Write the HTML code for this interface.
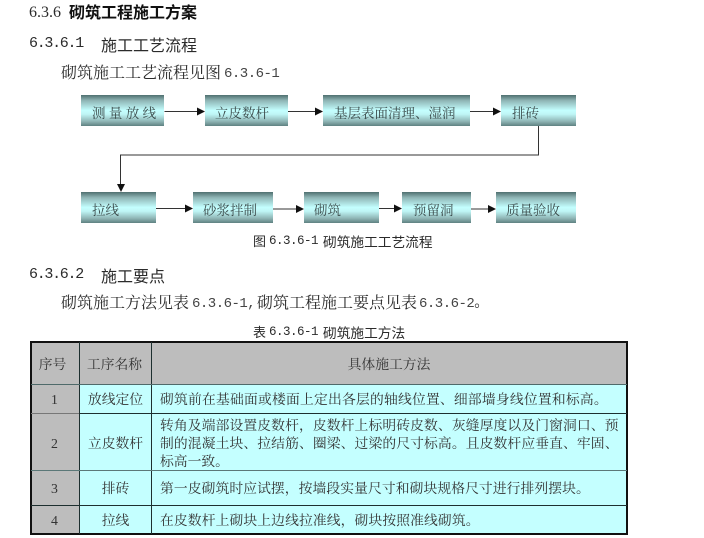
<!DOCTYPE html>
<html><head><meta charset="utf-8">
<style>
html,body{margin:0;padding:0;background:#fff}
#p{position:relative;width:704px;height:538px;overflow:hidden;background:#fff;filter:blur(.3px)}
.t{position:absolute;white-space:nowrap;color:#2b2b2b;font-family:"Liberation Serif","Noto Serif CJK SC",serif;line-height:18px}
.s{font-family:"Liberation Mono","Noto Sans CJK SC",sans-serif}
.b{position:absolute;height:31px;box-sizing:border-box;background:linear-gradient(#4f7070 0,#8fb5b5 18%,#c4ffff 50%,#bff5f5 62%,#8fb5b5 85%,#5f8282 100%);font:13.5px/37px "Liberation Serif","Noto Serif CJK SC",serif;color:#3a4a4a;white-space:nowrap;overflow:hidden}
.c{position:absolute;box-sizing:border-box;font:13.8px/18px "Liberation Serif","Noto Serif CJK SC",serif;color:#333;white-space:nowrap}
.m{text-align:center}
.g{background:#bdbdbd}
.a{background:#c4ffff}
.d{position:absolute;background:#1d2f2f}
</style></head><body><div id="p">
<div class="t" style="left:29px;top:4px;font-size:16px">6.3.6</div>
<div class="t" style="left:69px;top:5px;font-size:16px;font-weight:bold;font-family:'Liberation Sans','Noto Sans CJK SC',sans-serif;color:#111">砌筑工程施工方案</div>
<div class="t s" style="left:29px;top:35px;font-size:15px;letter-spacing:-1.3px">6.3.6.1</div>
<div class="t" style="left:101px;top:35px;font-size:16px;font-family:'Noto Sans CJK SC',sans-serif">施工工艺流程</div>
<div class="t" style="left:61px;top:65px;font-size:16px">砌筑施工工艺流程见图</div>
<div class="t s" style="left:224px;top:65px;font-size:14px;letter-spacing:-.5px;color:#444">6.3.6-1</div>

<div class="b" style="left:81px;top:95px;width:83px;padding-left:11px">测 量 放 线</div>
<div class="b" style="left:205px;top:95px;width:83px;padding-left:10px">立皮数杆</div>
<div class="b" style="left:323px;top:95px;width:147px;padding-left:11px">基层表面清理、湿润</div>
<div class="b" style="left:501px;top:95px;width:75px;padding-left:11px">排砖</div>
<div class="b" style="left:81px;top:192px;width:75px;padding-left:11px">拉线</div>
<div class="b" style="left:193px;top:192px;width:80px;padding-left:10px">砂浆拌制</div>
<div class="b" style="left:304px;top:192px;width:75px;padding-left:10px">砌筑</div>
<div class="b" style="left:402px;top:192px;width:69px;padding-left:11px">预留洞</div>
<div class="b" style="left:496px;top:192px;width:80px;padding-left:10px">质量验收</div>

<svg width="704" height="538" style="position:absolute;left:0;top:0" fill="#111" stroke="none">
<g stroke="#333" stroke-width="1" fill="none">
<path d="M164.5 111.5H198M288 111.5H317M470 111.5H495M156 208.5H187M273 209H298M379 208.5H396M471 209H490"/>
<path d="M538.5 126V155H120.5V184"/>
</g>
<path d="M197 107.5l8 4-8 4zM315 107.5l8 4-8 4zM493 107.5l8 4-8 4zM185 204.5l8 4-8 4zM296 205l8 4-8 4zM394 204.5l8 4-8 4zM488 205l8 4-8 4zM117 184h8l-4 8z"/>
</svg>

<div class="t" style="left:253px;top:232px;font-size:13px;font-family:'Noto Sans CJK SC',sans-serif">图</div>
<div class="t s" style="left:269px;top:232px;font-size:12.5px;letter-spacing:-.5px">6.3.6-1</div>
<div class="t" style="left:323px;top:232px;font-size:13.7px;font-family:'Noto Sans CJK SC',sans-serif">砌筑施工工艺流程</div>

<div class="t s" style="left:29px;top:266px;font-size:15px;letter-spacing:-1.3px">6.3.6.2</div>
<div class="t" style="left:101px;top:266px;font-size:16px;font-family:'Noto Sans CJK SC',sans-serif">施工要点</div>
<div class="t" style="left:61px;top:295px;font-size:16px">砌筑施工方法见表</div>
<div class="t s" style="left:192px;top:295px;font-size:14px;letter-spacing:-.5px;color:#444">6.3.6-1,</div>
<div class="t" style="left:257px;top:295px;font-size:16px">砌筑工程施工要点见表</div>
<div class="t s" style="left:419px;top:295px;font-size:14px;letter-spacing:-.5px;color:#444">6.3.6-2。</div>

<div class="t" style="left:253px;top:323px;font-size:13px;font-family:'Noto Sans CJK SC',sans-serif">表</div>
<div class="t s" style="left:269px;top:323px;font-size:12.5px;letter-spacing:-.5px">6.3.6-1</div>
<div class="t" style="left:323px;top:323px;font-size:13.7px;font-family:'Noto Sans CJK SC',sans-serif">砌筑施工方法</div>

<!-- table -->
<div class="c g" style="left:31px;top:342px;width:48px;height:43px"></div>
<div class="c g" style="left:79px;top:342px;width:72px;height:43px"></div>
<div class="c g" style="left:151px;top:342px;width:475px;height:43px"></div>
<div class="c g" style="left:31px;top:385px;width:48px;height:149px"></div>
<div class="c a" style="left:79px;top:385px;width:547px;height:149px"></div>

<div class="d" style="left:30px;top:341px;width:598px;height:2px;background:#111"></div>
<div class="d" style="left:30px;top:533px;width:598px;height:2px;background:#111"></div>
<div class="d" style="left:30px;top:341px;width:2px;height:194px;background:#111"></div>
<div class="d" style="left:626px;top:341px;width:2px;height:194px;background:#111"></div>
<div class="d" style="left:79px;top:342px;width:1px;height:192px"></div>
<div class="d" style="left:151px;top:342px;width:1px;height:192px"></div>
<div class="d" style="left:31px;top:384px;width:596px;height:1px;background:#4f6a6a"></div>
<div class="d" style="left:79px;top:413px;width:548px;height:1px"></div>
<div class="d" style="left:31px;top:413px;width:48px;height:1px;background:#777"></div>
<div class="d" style="left:31px;top:470px;width:596px;height:1px;background:#5b7878"></div>
<div class="d" style="left:31px;top:505px;width:596px;height:1px"></div>

<div class="c m" style="left:29px;top:356px;width:47px">序号</div>
<div class="c m" style="left:79px;top:356px;width:71px">工序名称</div>
<div class="c m" style="left:152px;top:356px;width:474px">具体施工方法</div>

<div class="c m" style="left:31px;top:391px;width:47px">1</div>
<div class="c m" style="left:80px;top:391px;width:71px">放线定位</div>
<div class="c" style="left:160px;top:391px;letter-spacing:.2px">砌筑前在基础面或楼面上定出各层的轴线位置、细部墙身线位置和标高。</div>

<div class="c m" style="left:31px;top:435px;width:47px">2</div>
<div class="c m" style="left:80px;top:435px;width:71px">立皮数杆</div>
<div class="c" style="left:160px;top:417px;letter-spacing:.1px">转角及端部设置皮数杆，皮数杆上标明砖皮数、灰缝厚度以及门窗洞口、预</div>
<div class="c" style="left:160px;top:435px;letter-spacing:.1px">制的混凝土块、拉结筋、圈梁、过梁的尺寸标高。且皮数杆应垂直、牢固、</div>
<div class="c" style="left:160px;top:453px">标高一致。</div>

<div class="c m" style="left:31px;top:480px;width:47px">3</div>
<div class="c m" style="left:80px;top:480px;width:71px">排砖</div>
<div class="c" style="left:160px;top:480px;letter-spacing:.07px">第一皮砌筑时应试摆，按墙段实量尺寸和砌块规格尺寸进行排列摆块。</div>

<div class="c m" style="left:31px;top:512px;width:47px">4</div>
<div class="c m" style="left:80px;top:512px;width:71px">拉线</div>
<div class="c" style="left:160px;top:512px;letter-spacing:.1px">在皮数杆上砌块上边线拉准线，砌块按照准线砌筑。</div>
</div></body></html>
